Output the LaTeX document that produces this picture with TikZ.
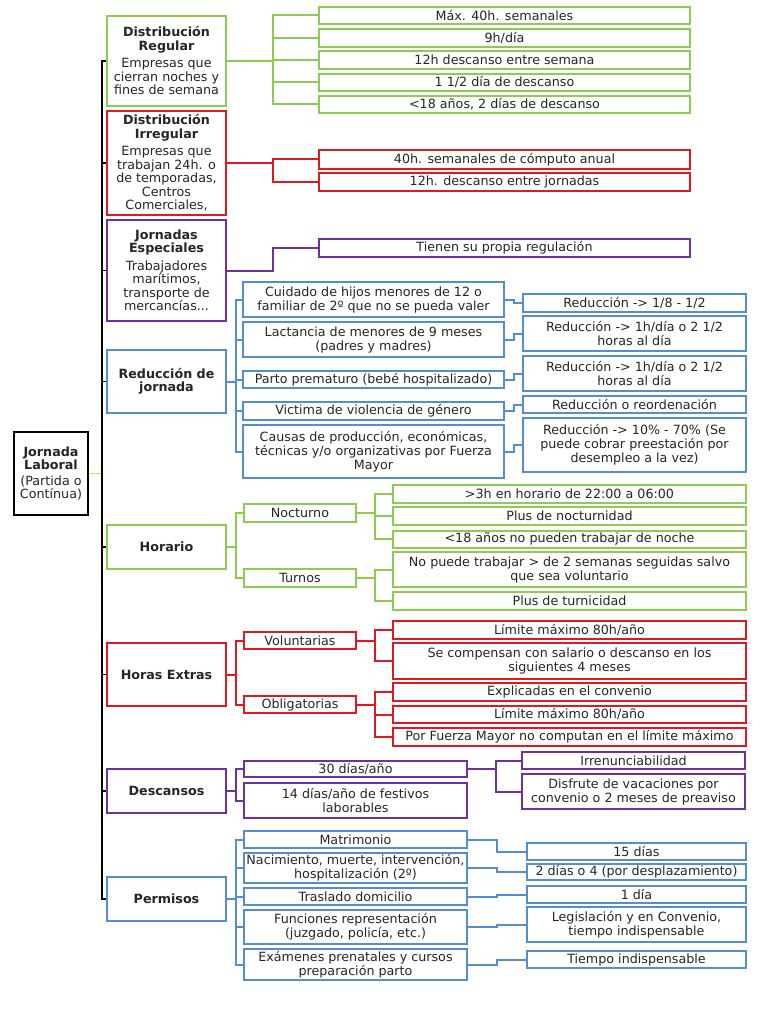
\documentclass[tikz,border=0pt]{standalone}
\usepackage{fontspec}
\setmainfont{DejaVu Sans}
\usetikzlibrary{positioning}
\definecolor{vgreen}{RGB}{140,204,80}
\definecolor{vred}{RGB}{226,24,32}
\definecolor{vpurple}{RGB}{112,48,160}
\definecolor{vblue}{RGB}{84,141,212}
\definecolor{vyellow}{RGB}{235,205,70}

\begin{document}
\begin{tikzpicture}[x=1pt,y=-1pt,
  box/.style={draw,line width=2pt,fill=white,align=center,inner sep=1pt,
    font=\fontsize{12.7}{14}\selectfont,text=black!85},
  mainbox/.style={box,font=\fontsize{12.7}{13.5}\selectfont},
  gbox/.style={box,draw=vgreen},
  rbox/.style={box,draw=vred},
  pbox/.style={box,draw=vpurple},
  bbox/.style={box,draw=vblue},
  kbox/.style={box,draw=black,line width=1.5pt},
  sz/.style 2 args={minimum width=#1,minimum height=#2},
  gline/.style={vgreen,line width=2pt},
  rline/.style={vred,line width=2pt},
  pline/.style={vpurple,line width=2pt},
  bline/.style={vblue,line width=2pt},
  kline/.style={black,line width=1.7pt}]
  \useasboundingbox (0,0) rectangle (768,1024);

  % root
  \node[kbox,mainbox,draw=black,sz={74}{83}] (root) at (51,473.5)
    {\textbf{Jornada}\\\textbf{Laboral}\\[2pt](Partida o\\Contínua)};

  % first level
  \node[gbox,mainbox,sz={119}{90}] (dreg) at (166.5,61)
    {\textbf{Distribución}\\\textbf{Regular}\\[4pt]Empresas que\\cierran noches y\\fines de semana};
  \node[rbox,mainbox,sz={119}{104}] (dirr) at (166.5,163)
    {\textbf{Distribución}\\\textbf{Irregular}\\[4pt]Empresas que\\trabajan 24h. o\\de temporadas,\\Centros\\Comerciales,};
  \node[pbox,mainbox,sz={119}{101}] (jesp) at (166.5,270.5)
    {\textbf{Jornadas}\\\textbf{Especiales}\\[4pt]Trabajadores\\marítimos,\\transporte de\\mercancías...};
  \node[bbox,mainbox,sz={119}{63}] (rjor) at (166.5,381.5) {\textbf{Reducción de}\\\textbf{jornada}};
  \node[gbox,mainbox,sz={119}{44}] (hora) at (166.5,547) {\textbf{Horario}};
  \node[rbox,mainbox,sz={119}{63}] (hext) at (166.5,674.5) {\textbf{Horas Extras}};
  \node[pbox,mainbox,sz={119}{44}] (desc) at (166.5,791) {\textbf{Descansos}};
  \node[bbox,mainbox,sz={119}{44}] (perm) at (166.5,899) {\textbf{Permisos}};

  % trunk
  \draw[vyellow,line width=1.7pt] (root.east) -- ++(13,0) coordinate (trunk);
  \foreach \n in {dreg,dirr,jesp,rjor,hora,hext,desc,perm}
    \draw[kline] (trunk) |- (\n.west);

  % distribucion regular
  \node[gbox,sz={371}{17}] (dr1) at (504.5,15.5) {Máx. 40h. semanales};
  \node[gbox,sz={371}{18}] (dr2) at (504.5,38) {9h/día};
  \node[gbox,sz={371}{18}] (dr3) at (504.5,60) {12h descanso entre semana};
  \node[gbox,sz={371}{17}] (dr4) at (504.5,82.5) {1 1/2 día de descanso};
  \node[gbox,sz={371}{17}] (dr5) at (504.5,104.5) {<18 años, 2 días de descanso};
  \draw[gline] (dreg.east) -- ++(46,0) coordinate (drb);
  \foreach \n in {dr1,dr2,dr3,dr4,dr5}
    \draw[gline] (drb) |- (\n.west);

  % distribucion irregular
  \node[rbox,sz={371}{19}] (di1) at (504.5,159.5) {40h. semanales de cómputo anual};
  \node[rbox,sz={371}{18}] (di2) at (504.5,182) {12h. descanso entre jornadas};
  \draw[rline] (dirr.east) -- ++(46,0) coordinate (dib);
  \foreach \n in {di1,di2}
    \draw[rline] (dib) |- (\n.west);

  % jornadas especiales
  \node[pbox,sz={371}{18}] (je1) at (504.5,248) {Tienen su propia regulación};
  \draw[pline] (jesp.east) -- ++(46,0) |- (je1.west);

  % reduccion de jornada
  \node[bbox,sz={261}{35}] (rj1) at (373.5,299.5) {Cuidado de hijos menores de 12 o\\familiar de 2º que no se pueda valer};
  \node[bbox,sz={261}{35}] (rj2) at (373.5,339.5) {Lactancia de menores de 9 meses\\(padres y madres)};
  \node[bbox,sz={261}{17}] (rj3) at (373.5,379.5) {Parto prematuro (bebé hospitalizado)};
  \node[bbox,sz={261}{18}] (rj4) at (373.5,411) {Victima de violencia de género};
  \node[bbox,sz={261}{53}] (rj5) at (373.5,451.5) {Causas de producción, económicas,\\técnicas y/o organizativas por Fuerza\\Mayor};
  \node[bbox,sz={223}{18}] (ro1) at (634.5,303) {Reducción -> 1/8 - 1/2};
  \node[bbox,sz={223}{35}] (ro2) at (634.5,333.5) {Reducción -> 1h/día o 2 1/2\\horas al día};
  \node[bbox,sz={223}{35}] (ro3) at (634.5,373.5) {Reducción -> 1h/día o 2 1/2\\horas al día};
  \node[bbox,sz={223}{17}] (ro4) at (634.5,404.5) {Reducción o reordenación};
  \node[bbox,sz={223}{54}] (ro5) at (634.5,445) {Reducción -> 10\% - 70\% (Se\\puede cobrar preestación por\\desempleo a la vez)};
  \draw[bline] (rjor.east) -- ++(9,0) coordinate (rjb);
  \foreach \n in {rj1,rj2,rj3,rj4,rj5}
    \draw[bline] (rjb) |- (\n.west);
  \foreach \a/\b in {rj1/ro1,rj2/ro2,rj3/ro3,rj4/ro4,rj5/ro5}
    \draw[bline] (\a.east) -- ++(9,0) |- (\b.west);

  % horario
  \node[gbox,sz={112}{18}] (noct) at (300,513) {Nocturno};
  \node[gbox,sz={112}{18}] (turn) at (300,578) {Turnos};
  \node[gbox,sz={353}{18}] (no1) at (569.5,494) {>3h en horario de 22:00 a 06:00};
  \node[gbox,sz={353}{18}] (no2) at (569.5,516) {Plus de nocturnidad};
  \node[gbox,sz={353}{17}] (no3) at (569.5,539) {<18 años no pueden trabajar de noche};
  \node[gbox,sz={353}{35}] (tu1) at (569.5,569.5) {No puede trabajar > de 2 semanas seguidas salvo\\que sea voluntario};
  \node[gbox,sz={353}{18}] (tu2) at (569.5,601) {Plus de turnicidad};
  \draw[gline] (hora.east) -- ++(9,0) coordinate (hob);
  \foreach \n in {noct,turn}
    \draw[gline] (hob) |- (\n.west);
  \draw[gline] (noct.east) -- ++(18,0) coordinate (nob);
  \foreach \n in {no1,no2,no3}
    \draw[gline] (nob) |- (\n.west);
  \draw[gline] (turn.east) -- ++(18,0) coordinate (tub);
  \foreach \n in {tu1,tu2}
    \draw[gline] (tub) |- (\n.west);

  % horas extras
  \node[rbox,sz={112}{17}] (volu) at (300,640.5) {Voluntarias};
  \node[rbox,sz={112}{17}] (obli) at (300,704.5) {Obligatorias};
  \node[rbox,sz={353}{18}] (vo1) at (569.5,630) {Límite máximo 80h/año};
  \node[rbox,sz={353}{36}] (vo2) at (569.5,661) {Se compensan con salario o descanso en los\\siguientes 4 meses};
  \node[rbox,sz={353}{18}] (ob1) at (569.5,692) {Explicadas en el convenio};
  \node[rbox,sz={353}{17}] (ob2) at (569.5,714.5) {Límite máximo 80h/año};
  \node[rbox,sz={353}{18}] (ob3) at (569.5,737) {Por Fuerza Mayor no computan en el límite máximo};
  \draw[rline] (hext.east) -- ++(9,0) coordinate (heb);
  \foreach \n in {volu,obli}
    \draw[rline] (heb) |- (\n.west);
  \draw[rline] (volu.east) -- ++(18,0) coordinate (vob);
  \foreach \n in {vo1,vo2}
    \draw[rline] (vob) |- (\n.west);
  \draw[rline] (obli.east) -- ++(18,0) coordinate (obb);
  \foreach \n in {ob1,ob2,ob3}
    \draw[rline] (obb) |- (\n.west);

  % descansos
  \node[pbox,sz={223}{16}] (de1) at (355.5,769) {30 días/año};
  \node[pbox,sz={223}{35}] (de2) at (355.5,800.5) {14 días/año de festivos\\laborables};
  \node[pbox,sz={223}{17}] (va1) at (633.5,760.5) {Irrenunciabilidad};
  \node[pbox,sz={223}{35}] (va2) at (633.5,791.5) {Disfrute de vacaciones por\\convenio o 2 meses de preaviso};
  \draw[pline] (desc.east) -- ++(9,0) coordinate (deb);
  \foreach \n in {de1,de2}
    \draw[pline] (deb) |- (\n.west);
  \draw[pline] (de1.east) -- ++(28,0) coordinate (vab);
  \foreach \n in {va1,va2}
    \draw[pline] (vab) |- (\n.west);

  % permisos
  \node[bbox,sz={223}{17}] (pe1) at (355.5,839.5) {Matrimonio};
  \node[bbox,sz={223}{30}] (pe2) at (355.5,868) {Nacimiento, muerte, intervención,\\hospitalización (2º)};
  \node[bbox,sz={223}{17}] (pe3) at (355.5,896.5) {Traslado domicilio};
  \node[bbox,sz={223}{34}] (pe4) at (355.5,927) {Funciones representación\\(juzgado, policía, etc.)};
  \node[bbox,sz={223}{31}] (pe5) at (355.5,964.5) {Exámenes prenatales y cursos\\preparación parto};
  \node[bbox,sz={219}{17}] (pd1) at (636.5,851.5) {15 días};
  \node[bbox,sz={219}{16}] (pd2) at (636.5,872) {2 días o 4 (por desplazamiento)};
  \node[bbox,sz={219}{17}] (pd3) at (636.5,894.5) {1 día};
  \node[bbox,sz={219}{35}] (pd4) at (636.5,924.5) {Legislación y en Convenio,\\tiempo indispensable};
  \node[bbox,sz={219}{17}] (pd5) at (636.5,959.5) {Tiempo indispensable};
  \draw[bline] (perm.east) -- ++(9,0) coordinate (peb);
  \foreach \n in {pe1,pe2,pe3,pe4,pe5}
    \draw[bline] (peb) |- (\n.west);
  \foreach \a/\b in {pe1/pd1,pe2/pd2,pe3/pd3,pe4/pd4,pe5/pd5}
    \draw[bline] (\a.east) -- ++(29,0) |- (\b.west);
\end{tikzpicture}
\end{document}
